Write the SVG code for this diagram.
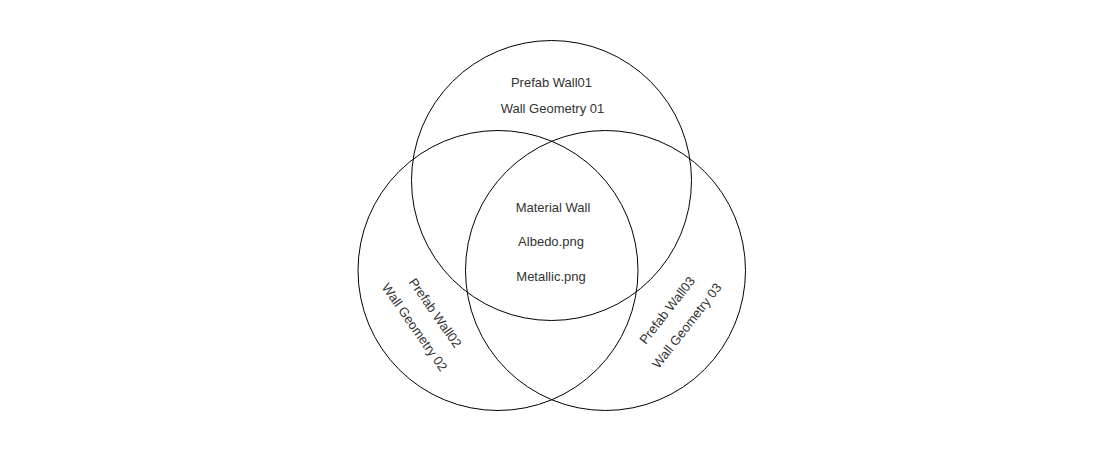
<svg xmlns="http://www.w3.org/2000/svg" width="1100" height="450" viewBox="0 0 1100 450">
<style>
.c{fill:none;stroke:#000;stroke-width:1}
.t{font-family:"Liberation Sans",Arial,sans-serif;font-size:13px;fill:#333333;text-anchor:middle}
</style>
<rect width="1100" height="450" fill="#fff"/>
<g id="circle-top"><circle class="c" cx="551.5" cy="180.5" r="140"/></g>
<g id="circle-left"><circle class="c" cx="498" cy="270.5" r="140"/></g>
<g id="circle-right"><circle class="c" cx="605.5" cy="270.5" r="140"/></g>
<g id="label-top">
<text class="t" x="551.5" y="87">Prefab Wall01</text>
<text class="t" x="552.5" y="112.5">Wall Geometry 01</text>
</g>
<g id="label-center">
<text class="t" x="553" y="212">Material Wall</text>
<text class="t" x="551" y="246">Albedo.png</text>
<text class="t" x="551" y="281">Metallic.png</text>
</g>
<g id="label-left" transform="translate(425,320) rotate(55)">
<text class="t" x="0" y="-8">Prefab Wall02</text>
<text class="t" x="0" y="17">Wall Geometry 02</text>
</g>
<g id="label-right" transform="translate(677,318) rotate(-52)">
<text class="t" x="0" y="-8">Prefab Wall03</text>
<text class="t" x="0" y="17">Wall Geometry 03</text>
</g>
<g id="connectors"></g>
</svg>
